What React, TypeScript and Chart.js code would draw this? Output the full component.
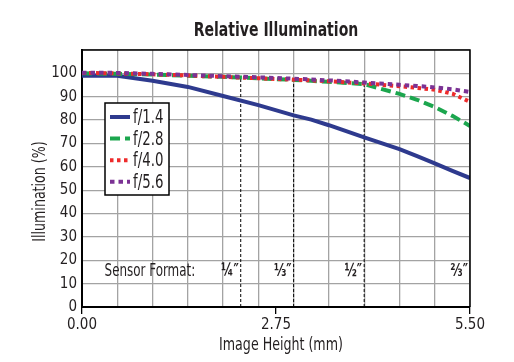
import React, { useEffect, useRef } from "react";
import { Chart, registerables } from "chart.js";

Chart.register(...registerables);

const FONT = '"Liberation Sans Narrow", "DejaVu Sans Condensed", sans-serif';

// Data
const imageHeights = [0, 0.5, 1.0, 1.5, 2.0, 2.5, 3.0, 3.25, 3.5, 4.0, 4.5, 4.75, 5.0, 5.25, 5.5];
const f14 = [99, 99, 96.8, 94.2, 90.3, 86.4, 82, 80.2, 77.8, 72.6, 67.6, 64.6, 61.5, 58.3, 55.2];
const f28 = [100, 99.8, 99.5, 99, 98.5, 97.9, 97.2, 96.8, 96.4, 95.4, 91.2, 88.7, 85.6, 81.8, 77.5];
const f40 = [100.2, 100, 99.6, 99.1, 98.5, 97.9, 97.3, 97, 96.6, 95.7, 94.5, 93.8, 93, 91.3, 87.8];
const f56 = [100.3, 100.2, 99.8, 99.3, 98.8, 98.3, 97.7, 97.4, 97, 96.1, 95.1, 94.6, 94, 93.2, 92];

const seriesNames = ["f/1.4", "f/2.8", "f/4.0", "f/5.6"];
const seriesColors = ["#2e3a8e", "#1ca64e", "#ee2b2b", "#7b3294"];
const seriesDash: number[][] = [[], [10, 5], [3.5, 3.5], [4.5, 4]];

const sensorPositions = [2.25, 3.0, 4.0];
const sensorTops = [98.2, 97.2, 95.8];
const sensorLabelPositions = [2.25, 3.0, 4.0, 5.5];
const sensorLabels = ["\u00BC\u2033", "\u2153\u2033", "\u00BD\u2033", "\u2154\u2033"];
const sensorCaption = "Sensor Format:";

const xGridValues = [0, 0.5, 1, 1.5, 2, 2.5, 2.75, 3, 3.5, 4, 4.5, 5, 5.5];
const xLabelledValues = [0, 2.75, 5.5];
const yMin = 0;
const yMax = 110;
const yStep = 10;

const chartTitle = "Relative Illumination";
const xTitle = "Image Height (mm)";
const yTitle = "Illumination (%)";

const TEXT = "#231f20";
const SQUEEZE = 0.78;

const isLabelled = (v: number) => xLabelledValues.some((l) => Math.abs(l - v) < 1e-6);

function condensedText(ctx: any, text: string, x: number, y: number, align: string, font: string, rot = 0) {
  ctx.save();
  ctx.translate(x, y);
  if (rot) ctx.rotate(rot);
  ctx.scale(SQUEEZE, 1);
  ctx.font = font;
  ctx.textAlign = align;
  ctx.textBaseline = "middle";
  ctx.fillStyle = TEXT;
  ctx.fillText(text, 0, 0);
  ctx.restore();
}

const overlayPlugin = {
  id: "overlay",
  afterDraw(chart: any) {
    const { ctx, chartArea: ca, scales } = chart;
    const xs = scales.x;
    const ys = scales.y;
    ctx.save();
    // frame
    ctx.strokeStyle = "#000";
    ctx.lineWidth = 1.5;
    ctx.setLineDash([]);
    ctx.beginPath();
    ctx.moveTo(ca.left, ca.top);
    ctx.lineTo(ca.right, ca.top);
    ctx.lineTo(ca.right, ca.bottom);
    ctx.stroke();

    // titles
    condensedText(ctx, chartTitle, (ca.left + ca.right) / 2, 31, "center", `bold 20px ${FONT}`);
    condensedText(ctx, xTitle, (ca.left + ca.right) / 2 + 5, 345, "center", `18px ${FONT}`);
    condensedText(ctx, yTitle, 40, (ca.top + ca.bottom) / 2 + 13, "center", `18px ${FONT}`, -Math.PI / 2);

    // sensor labels
    const ly = ys.getPixelForValue(15);
    condensedText(ctx, sensorCaption, xs.getPixelForValue(0.32), ly, "left", `17px ${FONT}`);
    sensorLabelPositions.forEach((p, i) => {
      condensedText(ctx, sensorLabels[i], xs.getPixelForValue(p) - 2, ly, "right", `bold 17px ${FONT}`);
    });

    // legend
    const bx = 105, by = 103, bw = 64, bh = 92;
    ctx.fillStyle = "#fff";
    ctx.fillRect(bx, by, bw, bh);
    ctx.strokeStyle = "#000";
    ctx.lineWidth = 1.5;
    ctx.strokeRect(bx, by, bw, bh);
    seriesNames.forEach((name, i) => {
      const ry = 117 + i * 21.6;
      ctx.strokeStyle = seriesColors[i];
      ctx.lineWidth = 4;
      ctx.setLineDash(seriesDash[i]);
      ctx.beginPath();
      ctx.moveTo(110, ry);
      ctx.lineTo(130, ry);
      ctx.stroke();
      ctx.setLineDash([]);
      condensedText(ctx, name, 133, ry + 1, "left", `19px ${FONT}`);
    });
    ctx.restore();
  },
};

export default function App() {
  const ref = useRef<HTMLCanvasElement | null>(null);
  useEffect(() => {
    if (!ref.current) return;
    const series = [f14, f28, f40, f56];
    const datasets: any[] = series.map((vals, i) => ({
      label: seriesNames[i],
      data: imageHeights.map((x, j) => ({ x, y: vals[j] })),
      borderColor: seriesColors[i],
      borderWidth: 4,
      borderDash: seriesDash[i],
      borderCapStyle: "butt",
      pointRadius: 0,
      fill: false,
      tension: 0,
      order: 4 - i,
    }));
    sensorPositions.forEach((p, i) => {
      datasets.push({
        label: "sensor" + i,
        data: [
          { x: p, y: 0 },
          { x: p, y: sensorTops[i] },
        ],
        borderColor: "#000",
        borderWidth: 1,
        borderDash: [3, 2],
        pointRadius: 0,
        fill: false,
        order: 10,
      });
    });
    const chart = new Chart(ref.current, {
      type: "line",
      data: { datasets },
      plugins: [overlayPlugin],
      options: {
        animation: false,
        responsive: false,
        layout: { padding: { top: 50, right: 44, left: 0, bottom: 0 } },
        plugins: { legend: { display: false }, tooltip: { enabled: false }, title: { display: false } },
        scales: {
          x: {
            type: "linear",
            min: 0,
            max: 5.5,
            afterBuildTicks: (scale: any) => {
              scale.ticks = xGridValues.map((v) => ({ value: v }));
            },
            afterFit: (scale: any) => {
              scale.height = 55;
            },
            ticks: {
              autoSkip: false,
              maxRotation: 0,
              padding: 2,
              color: TEXT,
              font: { family: FONT, size: 15 },
              callback: (v: any) => (isLabelled(Number(v)) ? Number(v).toFixed(2) : ""),
            },
            grid: {
              color: (c: any) => (c.tick && Math.abs(c.tick.value - 2.75) < 1e-6 ? "rgba(0,0,0,0)" : "#a3a3a3"),
              tickColor: (c: any) => (c.tick && isLabelled(c.tick.value) ? "#000" : "rgba(0,0,0,0)"),
              tickLength: 7,
              lineWidth: 1.3,
            },
            border: { color: "#000", width: 2 },
          },
          y: {
            min: yMin,
            max: yMax,
            afterFit: (scale: any) => {
              scale.width = 82;
            },
            ticks: {
              stepSize: yStep,
              autoSkip: false,
              padding: 5,
              color: TEXT,
              font: { family: FONT, size: 15 },
              callback: (v: any) => (Number(v) >= yMax ? "" : String(v)),
            },
            grid: { color: "#a3a3a3", drawTicks: false, lineWidth: 1.3 },
            border: { color: "#000", width: 2 },
          },
        },
      },
    });
    return () => chart.destroy();
  }, []);
  return (
    <div style={{ position: "absolute", left: 0, top: 0, width: 514, height: 362, background: "#fff" }}>
      <canvas ref={ref} width={514} height={362} style={{ display: "block" }} />
    </div>
  );
}
